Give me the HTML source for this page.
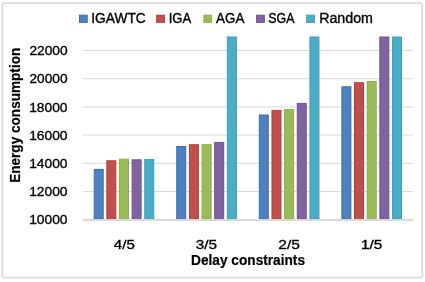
<!DOCTYPE html>
<html><head><meta charset="utf-8"><style>
html,body{margin:0;padding:0;background:#fff;}
body{width:425px;height:282px;overflow:hidden;position:relative;}
svg{position:absolute;left:0;top:0;}
.t{font-family:"Liberation Sans",sans-serif;font-size:13px;fill:#000;stroke:#000;stroke-width:0.35px;}
.b{font-family:"Liberation Sans",sans-serif;font-size:14px;font-weight:bold;fill:#000;stroke:#000;stroke-width:0.2px;}
</style></head><body>
<svg width="425" height="282" viewBox="0 0 425 282">
<rect x="2.3" y="3.1" width="420" height="274.5" rx="1.5" ry="1.5" fill="#fff" stroke="#DDDDDD" stroke-width="1.9"/>
<line x1="82.70" y1="191.43" x2="412.98" y2="191.43" stroke="#D9D9D9" stroke-width="1"/>
<line x1="82.70" y1="163.27" x2="412.98" y2="163.27" stroke="#D9D9D9" stroke-width="1"/>
<line x1="82.70" y1="135.10" x2="412.98" y2="135.10" stroke="#D9D9D9" stroke-width="1"/>
<line x1="82.70" y1="106.93" x2="412.98" y2="106.93" stroke="#D9D9D9" stroke-width="1"/>
<line x1="82.70" y1="78.76" x2="412.98" y2="78.76" stroke="#D9D9D9" stroke-width="1"/>
<line x1="82.70" y1="50.60" x2="412.98" y2="50.60" stroke="#D9D9D9" stroke-width="1"/>
<rect x="94.19" y="169.40" width="9.00" height="49.60" fill="#4F81BD" stroke="#3A6EB5" stroke-width="1"/>
<rect x="106.84" y="160.80" width="9.00" height="58.20" fill="#C0504D" stroke="#B83C39" stroke-width="1"/>
<rect x="119.48" y="159.20" width="9.00" height="59.80" fill="#9BBB59" stroke="#8BB046" stroke-width="1"/>
<rect x="132.13" y="159.80" width="9.00" height="59.20" fill="#8064A2" stroke="#6F5296" stroke-width="1"/>
<rect x="144.78" y="159.50" width="9.00" height="59.50" fill="#4BACC6" stroke="#3AA0BC" stroke-width="1"/>
<rect x="176.75" y="146.50" width="9.00" height="72.50" fill="#4F81BD" stroke="#3A6EB5" stroke-width="1"/>
<rect x="189.41" y="144.70" width="9.00" height="74.30" fill="#C0504D" stroke="#B83C39" stroke-width="1"/>
<rect x="202.06" y="144.70" width="9.00" height="74.30" fill="#9BBB59" stroke="#8BB046" stroke-width="1"/>
<rect x="214.70" y="142.40" width="9.00" height="76.60" fill="#8064A2" stroke="#6F5296" stroke-width="1"/>
<rect x="227.35" y="37.01" width="9.00" height="181.99" fill="#4BACC6" stroke="#3AA0BC" stroke-width="1"/>
<rect x="259.32" y="115.00" width="9.00" height="104.00" fill="#4F81BD" stroke="#3A6EB5" stroke-width="1"/>
<rect x="271.97" y="110.40" width="9.00" height="108.60" fill="#C0504D" stroke="#B83C39" stroke-width="1"/>
<rect x="284.62" y="109.60" width="9.00" height="109.40" fill="#9BBB59" stroke="#8BB046" stroke-width="1"/>
<rect x="297.27" y="103.50" width="9.00" height="115.50" fill="#8064A2" stroke="#6F5296" stroke-width="1"/>
<rect x="309.93" y="37.01" width="9.00" height="181.99" fill="#4BACC6" stroke="#3AA0BC" stroke-width="1"/>
<rect x="341.89" y="86.80" width="9.00" height="132.20" fill="#4F81BD" stroke="#3A6EB5" stroke-width="1"/>
<rect x="354.54" y="82.70" width="9.00" height="136.30" fill="#C0504D" stroke="#B83C39" stroke-width="1"/>
<rect x="367.19" y="81.50" width="9.00" height="137.50" fill="#9BBB59" stroke="#8BB046" stroke-width="1"/>
<rect x="379.84" y="37.01" width="9.00" height="181.99" fill="#8064A2" stroke="#6F5296" stroke-width="1"/>
<rect x="392.50" y="37.01" width="9.00" height="181.99" fill="#4BACC6" stroke="#3AA0BC" stroke-width="1"/>
<rect x="82.70" y="219" width="330.28" height="2" fill="#D9D9D9"/>
<rect x="79.50" y="15.2" width="7.7" height="7.2" fill="#4F81BD" stroke="#3A6EB5" stroke-width="1"/>
<rect x="156.70" y="15.2" width="7.7" height="7.2" fill="#C0504D" stroke="#B83C39" stroke-width="1"/>
<rect x="203.90" y="15.2" width="7.7" height="7.2" fill="#9BBB59" stroke="#8BB046" stroke-width="1"/>
<rect x="256.60" y="15.2" width="7.7" height="7.2" fill="#8064A2" stroke="#6F5296" stroke-width="1"/>
<rect x="306.70" y="15.2" width="7.7" height="7.2" fill="#4BACC6" stroke="#3AA0BC" stroke-width="1"/>
<text x="118.46" y="23.20" class="t" text-anchor="middle" style="font-size:13.80px" textLength="54.54" lengthAdjust="spacingAndGlyphs">IGAWTC</text>
<text x="179.97" y="23.20" class="t" text-anchor="middle" style="font-size:13.80px" textLength="22.48" lengthAdjust="spacingAndGlyphs">IGA</text>
<text x="230.21" y="23.20" class="t" text-anchor="middle" style="font-size:13.80px" textLength="28.24" lengthAdjust="spacingAndGlyphs">AGA</text>
<text x="281.41" y="23.20" class="t" text-anchor="middle" style="font-size:13.80px" textLength="26.18" lengthAdjust="spacingAndGlyphs">SGA</text>
<text x="346.07" y="23.20" class="t" text-anchor="middle" style="font-size:13.80px" textLength="53.85" lengthAdjust="spacingAndGlyphs">Random</text>
<text x="48.34" y="224.30" class="t" text-anchor="middle" style="font-size:13.50px" textLength="38.30" lengthAdjust="spacingAndGlyphs">10000</text>
<text x="48.34" y="196.13" class="t" text-anchor="middle" style="font-size:13.50px" textLength="38.30" lengthAdjust="spacingAndGlyphs">12000</text>
<text x="48.34" y="167.97" class="t" text-anchor="middle" style="font-size:13.50px" textLength="38.30" lengthAdjust="spacingAndGlyphs">14000</text>
<text x="48.34" y="139.80" class="t" text-anchor="middle" style="font-size:13.50px" textLength="38.30" lengthAdjust="spacingAndGlyphs">16000</text>
<text x="48.34" y="111.63" class="t" text-anchor="middle" style="font-size:13.50px" textLength="38.30" lengthAdjust="spacingAndGlyphs">18000</text>
<text x="48.48" y="83.46" class="t" text-anchor="middle" style="font-size:13.50px" textLength="38.06" lengthAdjust="spacingAndGlyphs">20000</text>
<text x="48.49" y="55.30" class="t" text-anchor="middle" style="font-size:13.50px" textLength="38.16" lengthAdjust="spacingAndGlyphs">22000</text>
<text x="124.31" y="249.40" class="t" text-anchor="middle" style="font-size:13.50px" textLength="21.03" lengthAdjust="spacingAndGlyphs">4/5</text>
<text x="206.47" y="249.40" class="t" text-anchor="middle" style="font-size:13.50px" textLength="21.35" lengthAdjust="spacingAndGlyphs">3/5</text>
<text x="289.12" y="249.40" class="t" text-anchor="middle" style="font-size:13.50px" textLength="21.59" lengthAdjust="spacingAndGlyphs">2/5</text>
<text x="371.57" y="249.40" class="t" text-anchor="middle" style="font-size:13.50px" textLength="21.30" lengthAdjust="spacingAndGlyphs">1/5</text>
<text x="248.06" y="265.20" class="b" text-anchor="middle" style="font-size:14.50px" textLength="113.92" lengthAdjust="spacingAndGlyphs">Delay constraints</text>
<text transform="translate(19.80,115.29) rotate(-90)" x="0" y="0" class="b" text-anchor="middle" style="font-size:14.50px" textLength="135.09" lengthAdjust="spacingAndGlyphs">Energy consumption</text>
</svg>
</body></html>
